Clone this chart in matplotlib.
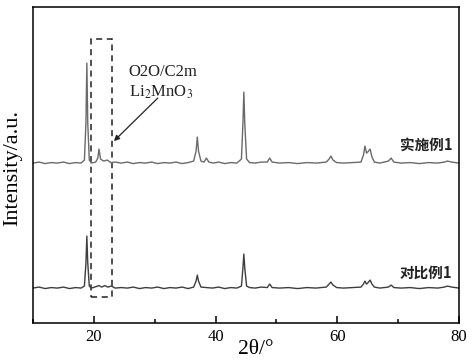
import matplotlib
matplotlib.use('Agg')
import matplotlib.pyplot as plt
from matplotlib.ticker import MultipleLocator
from matplotlib.patches import Rectangle

plt.rcParams.update({
    'font.family': 'Liberation Serif',
    'mathtext.fontset': 'stix',
    'xtick.direction': 'in',
    'axes.linewidth': 1.1,
})

# ── data (intensity in arbitrary units) ──────────────────────────────────────
x_top = [10, 11, 12, 13, 14, 15, 16, 17, 17.9, 18.45, 18.7, 18.85, 19.0, 19.25,
         19.6, 20.3, 20.65, 20.85, 21.1, 21.6, 22.2, 22.8, 23.5, 24.5, 25.5,
         26.5, 27.5, 28.5, 29.5, 30.5, 31.5, 32.5, 33.5, 34.5, 35.5, 36.4,
         36.8, 37.0, 37.2, 37.6, 38.1, 38.5, 38.9, 39.6, 40.5, 41.5, 42.5,
         43.5, 44.25, 44.5, 44.65, 44.8, 45.1, 45.6, 46.5, 47.5, 48.5, 48.9,
         49.3, 50.5, 52, 53.5, 55, 56.5, 58.2, 58.65, 58.95, 59.3, 59.9, 61,
         62.5, 63.9, 64.3, 64.55, 64.8, 65.0, 65.4, 65.7, 66.1, 67, 68.4,
         68.85, 69.3, 70.5, 72, 73.5, 75, 76.5, 77.6, 78.1, 78.8, 80]
y_top = [160, 161, 159.5, 160.5, 160, 161, 159.5, 160.5, 160, 163, 200, 260, 200,
         163, 160, 161, 165, 174, 164, 162, 163, 160.5, 161, 160, 161,
         159.5, 160.5, 160, 161, 159.5, 160.5, 160, 161, 159.5, 160.5, 162,
         172, 186, 172, 162, 161, 165, 161, 160, 161, 159.5, 160.5,
         160, 164, 200, 231, 200, 164, 160.5, 160, 161, 161, 165,
         161, 160, 160.5, 159.5, 160.5, 160, 161, 164, 167, 163, 160.5, 160,
         160.5, 161, 168, 177, 170, 171, 174, 166, 161, 160, 162,
         165, 161, 160, 160.5, 159.5, 160.5, 160, 161, 162, 161, 160]

x_bot = [10, 11, 12, 13, 14, 15, 16, 17, 17.9, 18.45, 18.7, 18.85, 19.0, 19.25,
         19.6, 20.4, 20.8, 21.3, 21.8, 22.3, 22.9, 23.5, 24.5, 25.5, 26.5,
         27.5, 28.5, 29.5, 30.5, 31.5, 32.5, 33.5, 34.5, 35.5, 36.4, 36.8,
         37.0, 37.2, 37.6, 38.5, 39.5, 40.5, 41.5, 42.5, 43.5, 44.25, 44.5,
         44.65, 44.8, 45.1, 45.6, 46.5, 47.5, 48.5, 48.9, 49.3, 50.5, 52,
         53.5, 55, 56.5, 58.2, 58.65, 58.95, 59.3, 59.9, 61, 62.5, 63.9,
         64.3, 64.55, 64.8, 65.0, 65.4, 65.7, 66.1, 67, 68.4, 68.85, 69.3,
         70.5, 72, 73.5, 75, 76.5, 77.6, 78.1, 78.8, 80]
y_bot = [35, 36, 34.5, 35.5, 35, 36, 34.5, 35.5, 35, 37, 60, 87, 60, 37,
         35, 36.5, 37.5, 36, 37.5, 36, 37, 35, 35.5, 35, 36, 34.5,
         35.5, 35, 36, 34.5, 35.5, 35, 36, 34.5, 36, 42,
         48, 42, 36, 35.5, 35, 36, 34.5, 35.5, 35, 37, 55,
         69, 55, 37, 35.5, 35, 36, 35.5, 39, 35.5, 35, 35.5,
         34.5, 35.5, 35, 36, 39, 41, 38, 35.5, 35, 35.5, 36,
         39, 42, 39, 40, 43, 39, 36, 35, 36, 38, 35.5,
         35, 35.5, 34.5, 35.5, 35, 36, 37, 36, 35]

box_x = (19.5, 23.0)      # dashed region, 2θ
box_y = (26, 284)

fig = plt.figure(figsize=(4.74, 3.63), dpi=100)
ax = fig.add_axes([0.0696, 0.110, 0.8987, 0.8705])

ax.plot(x_top, y_top, color='#6a6a6a', lw=1.0)
ax.plot(x_bot, y_bot, color='#3e3e3e', lw=1.0)

ax.add_patch(Rectangle((box_x[0], box_y[0]), box_x[1] - box_x[0], box_y[1] - box_y[0],
                       fill=False, ls=(0, (4, 3)), lw=1.1, ec='#222222'))

ax.text(25.6, 251, 'O2O/C2m', fontsize=12, va='center', ha='left', color='#222222')
ax.text(25.7, 231, 'Li$_2$MnO$_3$', fontsize=12, va='center', ha='left', color='#222222')
ax.annotate('', xy=(23.3, 182), xytext=(30.5, 225),
            arrowprops=dict(arrowstyle='-|>', color='#222222', lw=0.9,
                            mutation_scale=8, shrinkA=0, shrinkB=0))

ax.text(78.9, 178, '实施例1', fontsize=10.5, ha='right', va='center',
        family=['Noto Sans CJK SC', 'DejaVu Sans'], weight='bold', color='#222222')
ax.text(78.9, 50, '对比例1', fontsize=10.5, ha='right', va='center',
        family=['Noto Sans CJK SC', 'DejaVu Sans'], weight='bold', color='#222222')

ax.set_xlim(10, 80)
ax.set_ylim(0, 316)
ax.xaxis.set_major_locator(MultipleLocator(20))
ax.xaxis.set_minor_locator(MultipleLocator(10))
ax.tick_params(axis='x', which='major', length=5, width=1.1, labelsize=12, pad=4)
ax.tick_params(axis='x', which='minor', length=3, width=1.1)
ax.set_yticks([])

ax.set_xlabel('2θ/°', fontsize=15.5)
ax.xaxis.set_label_coords(0.523, -0.052)
ax.set_ylabel('Intensity/a.u.', fontsize=16)
ax.yaxis.set_label_coords(-0.025, 0.49)

fig.savefig('out.png', dpi=100)
